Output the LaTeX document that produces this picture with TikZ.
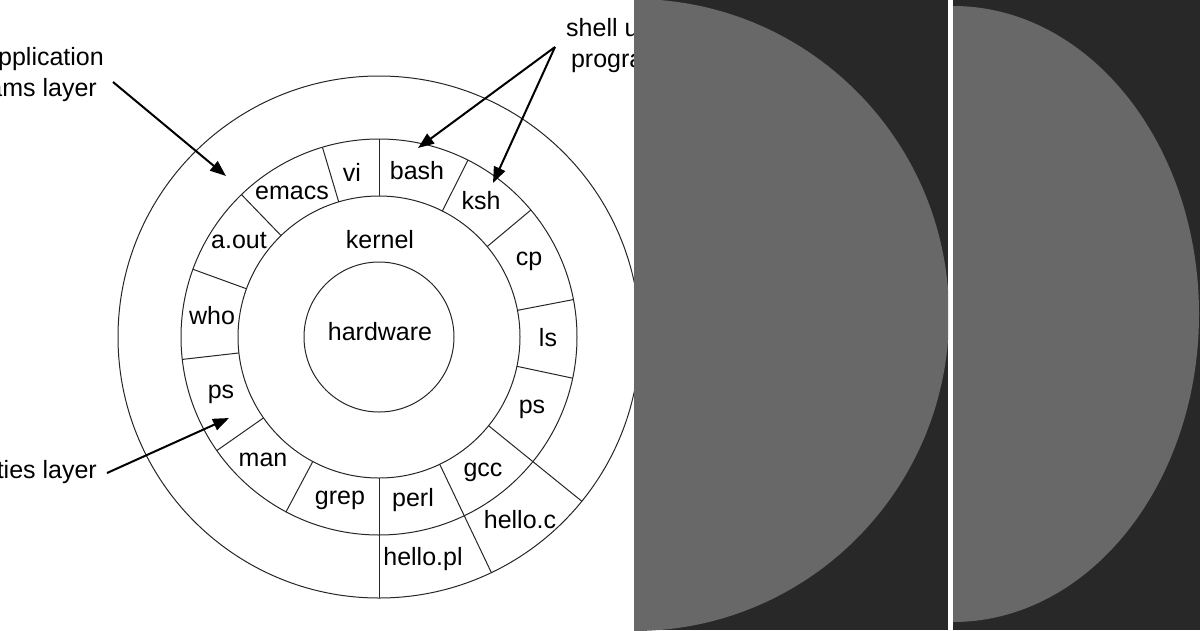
\documentclass[tikz,border=0pt]{standalone}
\usepackage{fontspec}
\setmainfont{Liberation Sans}
\usetikzlibrary{arrows.meta,calc}
\begin{document}
\begin{tikzpicture}[x=1pt,y=1pt,
  ring/.style={draw=black!85,line width=1pt},
  lbl/.style={font=\fontsize{25}{31}\selectfont,inner sep=0pt},
  pointer/.style={draw=black,line width=2pt,-{Triangle[length=16pt,width=12pt]}}]
\useasboundingbox (0,-630) rectangle (1200,0);
\clip (0,-630) rectangle (1200,0);
\coordinate (c) at (379,-337);
\draw[ring] (c) circle (75);
\draw[ring] (c) circle (141);
\draw[ring] (c) circle (198);
\draw[ring] (c) circle (261);
\foreach \a in {90,106.6,63.3,134,39.9,160,10.9,186.5,-12,215,242}
  \draw[ring] ($(c)+(\a:141)$) -- ($(c)+(\a:198)$);
\foreach \a in {-39,-90,-64.5}
  \draw[ring] ($(c)+(\a:141)$) -- ($(c)+(\a:261)$);
\node[lbl] (hw) at (380,-332) {hardware};
\node[lbl] (kn) at (380,-240) {kernel};
\node[lbl] (vi) at (352,-172) {vi};
\node[lbl] (bash) at (417,-171) {bash};
\node[lbl] (emacs) at (292,-193) {emacs};
\node[lbl] (ksh) at (481,-201) {ksh};
\node[lbl] (aout) at (239,-241) {a.out};
\node[lbl] (cp) at (529,-261) {cp};
\node[lbl] (who) at (212,-316) {who};
\node[lbl] (ls) at (548,-338) {ls};
\node[lbl] (psl) at (221,-394) {ps};
\node[lbl] (psr) at (532,-409) {ps};
\node[lbl] (man) at (263,-460) {man};
\node[lbl] (gcc) at (483,-472) {gcc};
\node[lbl] (grep) at (340,-500) {grep};
\node[lbl] (perl) at (413,-500) {perl};
\node[lbl] (helloc) at (520,-520) {hello.c};
\node[lbl] (hellopl) at (423,-559) {hello.pl};
\node[lbl,anchor=east] (app) at (104,-59) {application};
\node[lbl,anchor=east] (app2) at (97,-90) {programs layer};
\node[lbl,anchor=east] (util) at (97,-472) {utilities layer};
\node[lbl,align=center,anchor=west] (shell) at (566,-46) {shell utility\\programs};
\coordinate (a1) at (113,-82);
\coordinate (a2) at (226,-176);
\coordinate (u1) at (107,-473);
\coordinate (u2) at (229,-418);
\coordinate (s0) at (555,-47);
\coordinate (s1) at (418,-148);
\coordinate (s2) at (493,-183);
\draw[pointer] (a1) -- (a2);
\draw[pointer] (u1) -- (u2);
\draw[pointer] (s0) -- (s1);
\draw[pointer] (s0) -- (s2);
\fill[white] (948,-630) rectangle (953,0);
\fill[fill={rgb,255:red,40;green,40;blue,40}] (634,-630) rectangle (948,0);
\fill[fill={rgb,255:red,40;green,40;blue,40}] (953,-630) rectangle (1200,0);
\begin{scope}
\clip (634,-630) rectangle (948,0);
\fill[fill={rgb,255:red,104;green,104;blue,104}] (634,-315) ellipse [x radius=315,y radius=316];
\end{scope}
\begin{scope}
\clip (953,-630) rectangle (1200,0);
\fill[fill={rgb,255:red,104;green,104;blue,104}] (953,-314) ellipse [x radius=246,y radius=308];
\end{scope}
\end{tikzpicture}
\end{document}
